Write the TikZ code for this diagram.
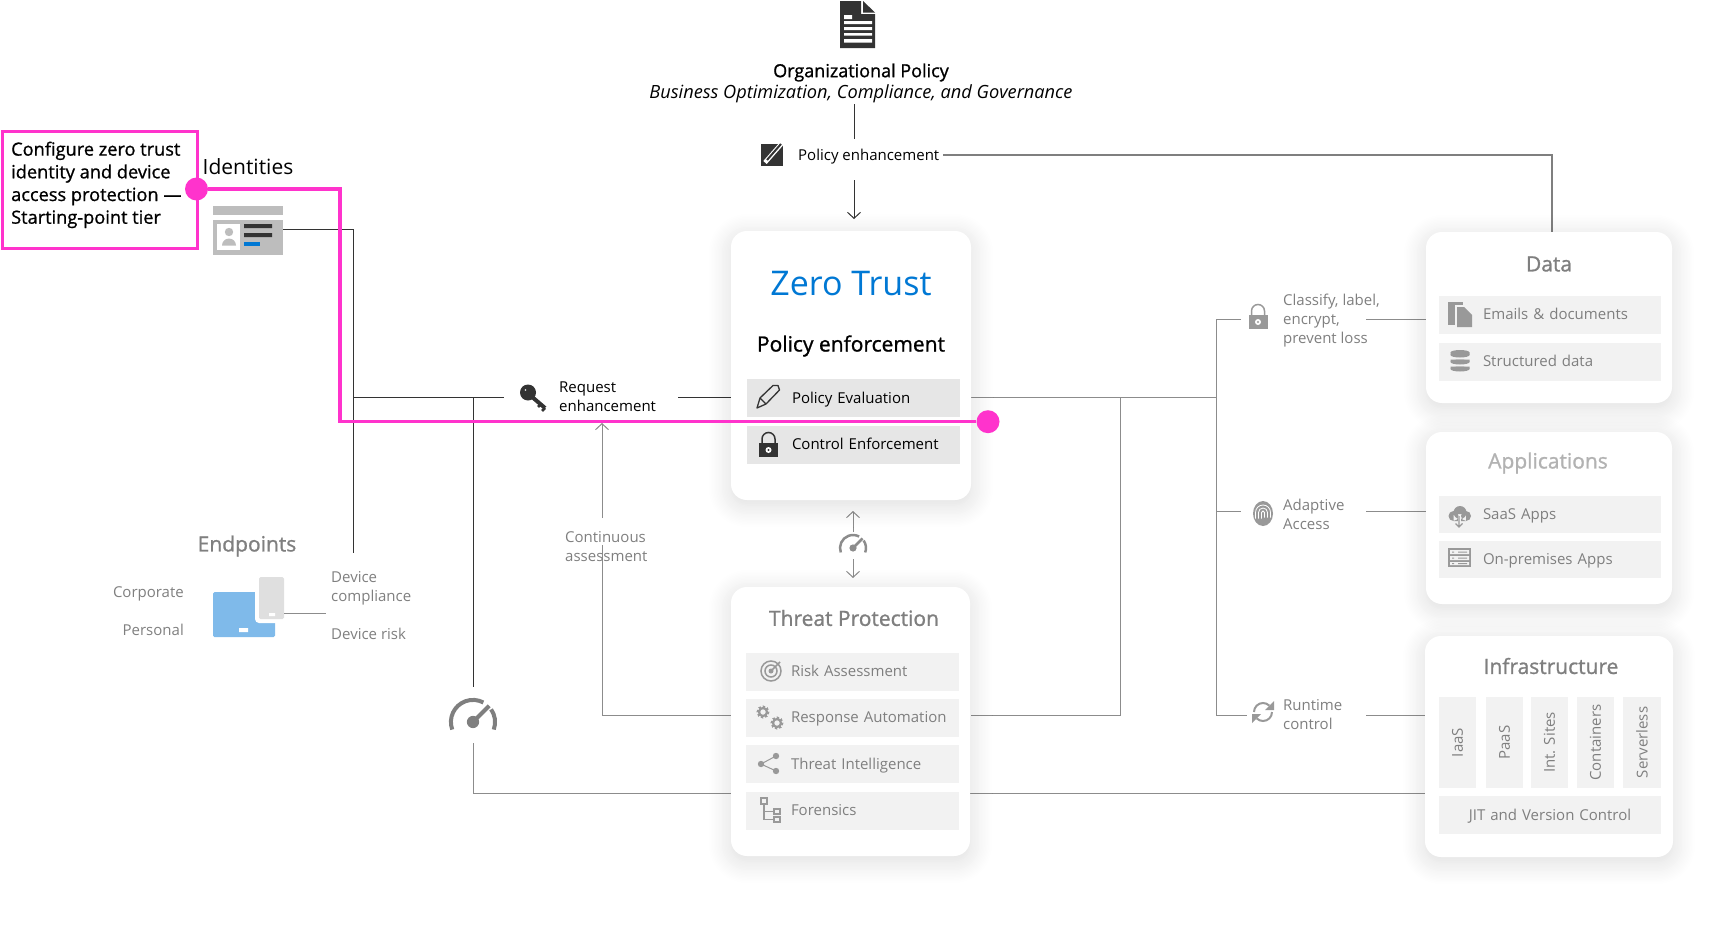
\documentclass[tikz,border=0pt]{standalone}
\usepackage{fontspec}
\setmainfont{Open Sans}
\newfontfamily\headfont[FakeBold=1.1]{Open Sans}
\newfontfamily\tierfont[FakeBold=0.9]{Open Sans}
\usetikzlibrary{arrows.meta,shadows.blur}
\definecolor{pinkline}{HTML}{FF33CC}
\definecolor{linegrey}{HTML}{8C8C8C}
\definecolor{textgrey}{HTML}{7F7F7F}
\definecolor{rowdark}{HTML}{E6E6E6}
\definecolor{rowlight}{HTML}{F2F2F2}
\definecolor{iconblack}{HTML}{333333}
\definecolor{icongrey}{HTML}{999999}
\definecolor{idgrey}{HTML}{BDBDBD}
\definecolor{ztblue}{HTML}{0078D4}
\definecolor{tabletblue}{HTML}{7FBAEA}
\definecolor{phonegrey}{HTML}{DFDFDF}
\tikzset{
    card/.style={fill=white,rounded corners=16pt,minimum width=246pt,blur shadow={shadow blur steps=16,shadow xshift=0pt,shadow yshift=-5pt,shadow blur radius=22pt,shadow opacity=14}},
    rowbase/.style={fill=rowlight,minimum height=38pt,inner xsep=0pt,inner ysep=0pt,text height=14pt,text depth=3.5pt,font=\fontsize{15}{18}\selectfont,text=textgrey},
    rowbox/.style={rowbase,text width=213pt,align=left,execute at begin node={\hspace*{45pt}}},
    siderow/.style={rowbase,text width=222pt,align=left,execute at begin node={\hspace*{44pt}}},
    darkrow/.style={rowbox,fill=rowdark,text=black},
    stand/.style={fill=rowlight,minimum width=37pt,minimum height=91pt,inner sep=0pt},
    standtext/.style={font=\fontsize{15}{18}\selectfont,text=textgrey,rotate=90},
    cardtitle/.style={font=\headfont\fontsize{21}{24}\selectfont,text=textgrey},
    labeltext/.style={font=\fontsize{15}{19}\selectfont,text=textgrey,align=left,anchor=west,inner sep=0pt},
    blacktext/.style={labeltext,text=black},
    link/.style={draw=linegrey,line width=1pt},
    blacklink/.style={draw=iconblack,line width=1pt},
    pointer/.style={-{Straight Barb[length=6pt,width=13pt]}},
    pinkpath/.style={draw=pinkline,line width=3.5pt},
    pinkdot/.style={circle,fill=pinkline,minimum size=23pt,inner sep=0pt},
    pics/gaugeicon/.style 2 args={code={
        \draw[#1,line width=#2] (160:13) arc (160:298:13);
        \draw[#1,line width=#2] (325:13) arc (325:380:13);
        \fill[#1] (0,0) circle (3.6);
        \draw[#1,line width=#2] (0,0) -- (9.5,-9.5);
    }},
    pics/lockicon/.style={code={
        \draw[#1,line width=1.5pt] (-6.5,1) -- (-6.5,-4) arc (180:360:6.5) -- (6.5,1);
        \fill[#1] (-9.5,0) rectangle (9.5,14);
        \fill[white] (0,7) circle (3);
        \fill[#1] (0,7) circle (1.2);
    }},
    pics/gearicon/.style={code={
        \draw[icongrey,line width=2.2pt] (0,0) circle (4);
        \draw[icongrey,line width=2pt,dash pattern=on 2.2pt off 1.99pt] (0,0) circle (5.5);
    }},
}
\begin{document}
\begin{tikzpicture}[x=1pt,y=-1pt]
    \useasboundingbox (0,0) rectangle (1717,926);

    \node[fill=idgrey,minimum width=70pt,minimum height=35pt,inner sep=0pt] (idcard) at (248,237.5) {};
    \coordinate (idbottom) at (353,553);
    \coordinate (idjoin) at (353,397);
    \coordinate (requestleft) at (504,397);
    \coordinate (requestright) at (678,397);
    \coordinate (gaugejoin) at (473,397);
    \coordinate (gaugetop) at (473,687);
    \coordinate (gaugebottom) at (473,743);
    \coordinate (assessarrow) at (602,423);
    \coordinate (assessupper) at (602,518);
    \coordinate (assesslower) at (602,545);
    \coordinate (policytop) at (854,104);
    \coordinate (policymid) at (854,139);
    \coordinate (policyarrow) at (854,180);
    \coordinate (policyright) at (943,155);
    \coordinate (threatjoin) at (1120,397);
    \coordinate (datajoin) at (1216,397);
    \coordinate (classifyleft) at (1241,319);
    \coordinate (classifyright) at (1366,319);
    \coordinate (adaptiveleft) at (1241,511);
    \coordinate (adaptiveright) at (1366,511);
    \coordinate (runtimeleft) at (1247,715);
    \coordinate (runtimeright) at (1366,715);
    \coordinate (deviceleft) at (284,613);
    \coordinate (deviceright) at (326,613);
    \coordinate (pinkcorner) at (340,189);

    % connectors
    \draw[blacklink] ([yshift=8pt]idcard.east) -| (idbottom);
    \draw[blacklink] (idjoin) -- (requestleft);
    \draw[blacklink] (gaugejoin) -- (gaugetop);
    \draw[link] (gaugebottom) |- (1425,793);
    \draw[blacklink] (requestright) -- (731,397);
    \draw[link] (971,397) -- (datajoin);
    \draw[link] (threatjoin) |- (971,715);
    \draw[link] (731,715) -| (assesslower);
    \draw[link,pointer] (assessupper) -- (assessarrow);
    \draw[blacklink] (policytop) -- (policymid);
    \draw[blacklink,pointer] (policyarrow) -- (854,219);
    \draw[draw=textgrey,line width=1.5pt] (policyright) -| (1552,232);
    \draw[link] (classifyleft) -| (1216,715) -- (runtimeleft);
    \draw[link] (1216,511) -- (adaptiveleft);
    \draw[link] (classifyright) -- (1426,319);
    \draw[link] (adaptiveright) -- (1426,511);
    \draw[link] (runtimeright) -- (1425,715);
    \draw[link,pointer] (853,532) -- (853,511);
    \draw[link,pointer] (853,559) -- (853,578);

    % cards
    \node[card,minimum width=240pt,minimum height=269pt] (zerotrust) at (851,365.5) {};
    \node[card,minimum width=239pt,minimum height=269pt] (threat) at (850.5,721.5) {};
    \node[card,minimum height=171pt] (data) at (1549,317.5) {};
    \node[card,minimum height=172pt] (apps) at (1549,518) {};
    \node[card,minimum width=248pt,minimum height=221pt] (infra) at (1549,746.5) {};

    % zero trust
    \node[font=\fontsize{34}{40}\selectfont,text=ztblue] (zttitle) at (851,284) {Zero Trust};
    \node[font=\headfont\fontsize{21}{24}\selectfont] (ztsub) at (851,346) {Policy enforcement};
    \node[darkrow] (policyeval) at (853.5,398) {Policy Evaluation};
    \node[darkrow] (control) at (853.5,444.5) {Control Enforcement};
    \draw[iconblack,line width=1.3pt,line join=round] (757,408) -- (760,398) -- (773,385.5) -- (778,385.5) -- (779.5,390) -- (766,404) -- cycle (760,398) -- (766,404);
    \pic at (768.5,443) {lockicon=iconblack};

    % threat protection
    \node[cardtitle] (threattitle) at (854,618) {Threat Protection};
    \node[rowbox] (risk) at (852.5,671.5) {Risk Assessment};
    \node[rowbox] (response) at (852.5,717.5) {Response Automation};
    \node[rowbox] (intel) at (852.5,764) {Threat Intelligence};
    \node[rowbox] (forensics) at (852.5,810.5) {Forensics};
    \draw[icongrey,line width=1.5pt] (771,671) circle (10) (771,671) circle (6);
    \fill[icongrey] (771,671) circle (2.5);
    \draw[icongrey,line width=1.5pt] (771,671) -- (780,662);
    \pic at (763,712) {gearicon};
    \pic at (777,723) {gearicon};
    \fill[icongrey] (761,764) circle (3.2) (776,756) circle (3.2) (776,771) circle (3.2);
    \draw[icongrey,line width=1pt] (776,756) -- (761,764) -- (776,771);
    \draw[icongrey,line width=1.3pt] (761,798) rectangle (767,804) (774,809) rectangle (780,814) (774,817) rectangle (780,822) (764,804) -- (764,819.5) -- (774,819.5) (764,811.5) -- (774,811.5);

    % data
    \node[cardtitle] (datatitle) at (1549,264) {Data};
    \node[siderow] (emails) at (1550,314.5) {Emails \& documents};
    \node[siderow] (structured) at (1550,361.5) {Structured data};
    \fill[icongrey] (1448,302) rectangle (1463,325);
    \fill[rowlight] (1455,305) rectangle (1474,329);
    \fill[icongrey] (1457,307) -- (1464,307) -- (1472,315) -- (1472,327) -- (1457,327) -- cycle;
    \fill[icongrey] (1450.5,352.5) rectangle (1469.5,355) (1450.5,359.5) rectangle (1469.5,362) (1450.5,366.5) rectangle (1469.5,369);
    \fill[icongrey] (1460,352.5) ellipse (9.5 and 2.5) (1460,355) ellipse (9.5 and 2.5) (1460,362) ellipse (9.5 and 2.5) (1460,369) ellipse (9.5 and 2.5);

    % applications
    \node[cardtitle,text=black!30] (appstitle) at (1548,463) {Applications};
    \node[siderow,minimum height=37pt] (saas) at (1550,514.5) {SaaS Apps};
    \node[siderow,minimum height=37pt] (onprem) at (1550,559.5) {On-premises Apps};
    \fill[icongrey] (1453.5,516) circle (5) (1460,512.5) circle (6.5) (1466,516) circle (5) (1453.5,514) rectangle (1466,521);
    \draw[rowlight,line width=3pt] (1459,516) -- (1459,527);
    \draw[icongrey,line width=1.2pt] (1459,516) -- (1459,526.5) (1455.5,523.5) -- (1459,527) -- (1462.5,523.5);
    \fill[icongrey] (1448,548) rectangle (1471,567);
    \fill[rowlight] (1450,550) rectangle (1469,554) (1450,556) rectangle (1469,560) (1450,562) rectangle (1469,565);
    \fill[icongrey] (1458,551.5) rectangle (1467,552.5) (1458,557.5) rectangle (1467,558.5) (1458,563) rectangle (1467,564) (1452,551.5) rectangle (1454,552.5) (1452,557.5) rectangle (1454,558.5) (1452,563) rectangle (1454,564);

    % infrastructure
    \node[cardtitle] (infratitle) at (1551,666) {Infrastructure};
    \node[stand] (iaas) at (1457.5,742.5) {};
    \node[stand] (paas) at (1504.5,742.5) {};
    \node[stand] (sites) at (1549.5,742.5) {};
    \node[stand] (containers) at (1595.5,742.5) {};
    \node[stand,minimum width=38pt] (serverless) at (1642,742.5) {};
    \node[standtext] at (iaas) {IaaS};
    \node[standtext] at (paas) {PaaS};
    \node[standtext] at (sites) {Int. Sites};
    \node[standtext] at (containers) {Containers};
    \node[standtext] at (serverless) {Serverless};
    \node[rowbase,text width=222pt,align=center] (jit) at (1550,815) {JIT and Version Control};

    % side labels
    \node[labeltext] (classify) at (1283,320.5) {Classify, label,\\encrypt,\\prevent loss};
    \node[labeltext] (adaptive) at (1283,514.5) {Adaptive\\Access};
    \node[labeltext] (runtime) at (1283,715) {Runtime\\control};
    \pic at (1258,315) {lockicon=icongrey};
    \fill[icongrey] (1263,513.5) ellipse (10 and 12.5);
    \foreach \fpr in {1.5,4.5,7.5}
        \draw[white,line width=.8pt] (1263,513.5) ++ (-\fpr,5) -- ++(0,-6) arc (180:360:\fpr) -- ++(0,5);
    \draw[icongrey,line width=2pt] (1254,712) arc (180:315:9);
    \draw[icongrey,line width=2pt] (1272,712) arc (0:135:9);
    \fill[icongrey] (1274,701) -- (1274,710) -- (1265,710) -- cycle (1252,723) -- (1252,714) -- (1261,714) -- cycle;

    % request enhancement
    \node[blacktext] (request) at (559,397) {Request\\enhancement};
    \fill[iconblack,even odd rule] (528,392.5) circle (8) (525.5,390) circle (1.2);
    \draw[iconblack,line width=4pt] (531,396) -- (545,408);
    \draw[iconblack,line width=2.5pt] (541,404) -- (538,407) (545,408) -- (542,411);
    \node[labeltext] (assess) at (565,546.5) {Continuous\\assessment};
    \pic at (853,548) {gaugeicon={linegrey}{2.5pt}};
    \pic[scale=1.7] at (473,722) {gaugeicon={textgrey}{4pt}};

    % policy
    \fill[iconblack] (840,1) -- (861,1) -- (861,14) -- (875,14) -- (875,48) -- (840,48) -- cycle (863,1) -- (875,12.5) -- (863,12.5) -- cycle;
    \fill[white] (844,15) rectangle (852,19) (844,21) rectangle (872,24) (844,27) rectangle (872,30) (844,33) rectangle (872,35.5) (844,39) rectangle (872,42.5);
    \node[font=\headfont\fontsize{18}{21}\selectfont] (orgpolicy) at (861,72.5) {Organizational Policy};
    \node[font=\fontsize{18.2}{21}\selectfont\itshape] (orgsub) at (861,94) {Business Optimization, Compliance, and Governance};
    \fill[iconblack] (761,144) rectangle (783,166);
    \draw[white,line width=4.5pt] (765,162.5) -- (783,142);
    \draw[iconblack,line width=2pt] (767,160) -- (781,144);
    \node[blacktext] (policyenh) at (798,157) {Policy enhancement};

    % identities
    \fill[idgrey] (213,206) rectangle (283,215);
    \fill[white] (217,224) rectangle (240,250);
    \fill[idgrey] (229,232) circle (4.2) (222,245.5) arc (180:360:7) -- cycle;
    \fill[iconblack] (244,224) rectangle (272,228) (244,233) rectangle (272,237);
    \fill[ztblue] (244,241.5) rectangle (260,245.5);
    \node[font=\fontsize{21}{24}\selectfont] (identities) at (248,167) {Identities};

    % endpoints
    \node[cardtitle] (endpoints) at (247,546) {Endpoints};
    \node[labeltext,anchor=east] (corporate) at (184,594) {Corporate};
    \node[labeltext,anchor=east] (personal) at (184,630) {Personal};
    \node[labeltext] (compliance) at (331,588.5) {Device\\compliance};
    \node[labeltext] (devicerisk) at (331,633.5) {Device risk};
    \fill[tabletblue,rounded corners=1.5pt] (213,592) rectangle (275,637);
    \fill[white,rounded corners=4pt] (255,585) rectangle (280,623);
    \fill[phonegrey,rounded corners=1.5pt] (259,577) rectangle (284,619);
    \fill[white] (239,628) rectangle (248,632) (269,613) rectangle (275,616);
    \draw[link] (deviceleft) -- (deviceright);

    % pink overlay
    \node[draw=pinkline,line width=3pt,fill=white,inner sep=0pt,minimum width=195pt,minimum height=117pt] (tierbox) at (99.5,189.5) {};
    \node[font=\tierfont\fontsize{18.2}{22.7}\selectfont,align=left,anchor=north west,inner sep=0pt] (tiertext) at (11,141.5) {Configure zero trust\\identity and device\\access protection —\\Starting-point tier};
    \node[pinkdot] (pinkstart) at (196.5,189) {};
    \node[pinkdot] (pinkend) at (988,421.7) {};
    \draw[pinkpath] (pinkstart) -- (pinkcorner) |- (pinkend);
\end{tikzpicture}
\end{document}
